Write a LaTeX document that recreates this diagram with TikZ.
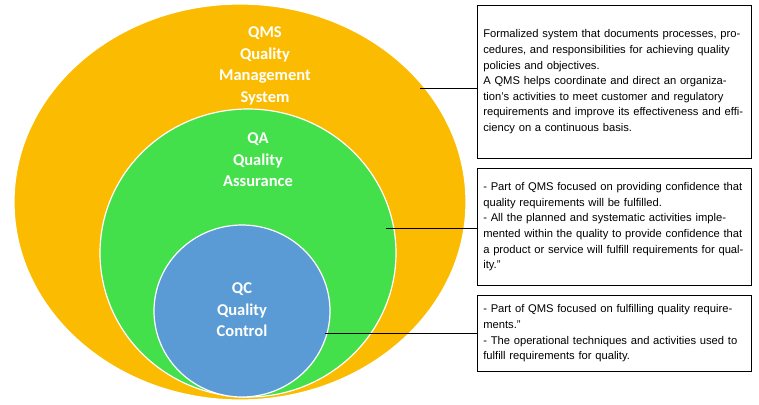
\documentclass[tikz,border=0pt]{standalone}
\usepackage{fontspec}
\setmainfont{Liberation Sans}
\newfontfamily\calfont{Carlito}
\usetikzlibrary{positioning}
\definecolor{qmsorange}{HTML}{FBBB00}
\definecolor{qagreen}{HTML}{44E04C}
\definecolor{qcblue}{HTML}{5B9BD5}
\tikzset{
  ring/.style={draw=white, line width=1.2pt},
  title/.style={text=white, font=\calfont\bfseries\fontsize{16.5}{21.5}\selectfont, align=center},
  note/.style={draw=black, line width=0.6pt, text width=262pt, inner xsep=6pt, inner ysep=3pt, align=left,
    font=\fontsize{11.2}{15.6}\selectfont},
}
\begin{document}
\begin{tikzpicture}[x=1pt, y=-1pt]
  \useasboundingbox (0,0) rectangle (759,404);

  \draw[ring, fill=qmsorange] (240,202) ellipse [x radius=226pt, y radius=198pt];
  \draw[ring, fill=qagreen] (248,253) ellipse [x radius=148pt, y radius=144pt];
  \draw[ring, fill=qcblue] (242,311) ellipse [x radius=88pt, y radius=86pt];

  \node[title] (qms) at (265,66) {QMS\\Quality\\Management\\System};
  \node[title] (qa) at (258,160) {QA\\Quality\\Assurance};
  \node[title] (qc) at (242,310) {QC\\Quality\\Control};

  \node[note, anchor=north west, minimum height=153pt] (n1) at (477,5) {Formalized system that documents processes, procedures, and responsibilities for achieving quality policies and objectives.\\A QMS helps coordinate and direct an organization's activities to meet customer and regulatory requirements and improve its effectiveness and efficiency on a continuous basis.};
  \node[note, anchor=north west, minimum height=117pt] (n2) at (477,168) {- Part of QMS focused on providing confidence that quality requirements will be fulfilled.\\- All the planned and systematic activities implemented within the quality to provide confidence that a product or service will fulfill requirements for quality.''};
  \node[note, anchor=north west, minimum height=76pt] (n3) at (477,295) {- Part of QMS focused on fulfilling quality requirements.''\\- The operational techniques and activities used to fulfill requirements for quality.};

  \coordinate (p1) at (420,88);
  \coordinate (p2) at (386,228);
  \coordinate (p3) at (325,333);
  \draw (p1) -- (n1.west |- p1);
  \draw (p2) -- (n2.west |- p2);
  \draw (p3) -- (n3.west |- p3);
\end{tikzpicture}
\end{document}
